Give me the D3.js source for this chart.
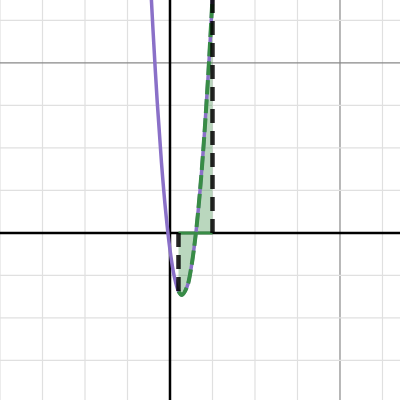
<!DOCTYPE html>
<html>
<head>
<meta charset="utf-8">
<script src="https://cdn.jsdelivr.net/npm/d3@7"></script>
<style>body{margin:0;background:#fff}</style>
</head>
<body>
<svg width="400" height="400"></svg>
<script>
const svg = d3.select("svg");
const width = +svg.attr("width");
const height = +svg.attr("height");

// points
const xs = [-0.45, -0.4, -0.3, -0.2, -0.1, 0, 0.1, 0.2, 0.28, 0.4, 0.5, 0.6, 0.7, 0.8, 0.9, 1.0, 1.05];
const ys = [5.73, 4.78, 3.08, 1.65, 0.49, -0.40, -1.02, -1.37, -1.46, -1.27, -0.81, -0.08, 0.92, 2.19, 3.73, 5.54, 6.54];
const shadeFrom = 0.2;
const shadeTo = 1.0;
const minorTicks = d3.range(-4, 6);
const majorTicks = [4];

const pts = xs.map((x, i) => ({x, y: ys[i]}));

const x = d3.scaleLinear().domain([-4, 5.412]).range([0, width]);
const y = d3.scaleLinear().domain([-3.93, 5.48]).range([height, 0]);

const g = svg.append("g");
g.selectAll(".vx").data(minorTicks).enter().append("line")
    .attr("x1", d => x(d)).attr("x2", d => x(d)).attr("y1", 0).attr("y2", height)
    .attr("stroke", d => majorTicks.includes(d) ? "#888" : "#e0e0e0").attr("stroke-width", 1.2);
g.selectAll(".hy").data(d3.range(-3, 6)).enter().append("line")
    .attr("y1", d => y(d)).attr("y2", d => y(d)).attr("x1", 0).attr("x2", width)
    .attr("stroke", d => majorTicks.includes(d) ? "#888" : "#e0e0e0").attr("stroke-width", 1.2);

g.append("line").attr("x1", x(0)).attr("x2", x(0)).attr("y1", 0).attr("y2", height)
    .attr("stroke", "#000").attr("stroke-width", 2.5);
g.append("line").attr("y1", y(0)).attr("y2", y(0)).attr("x1", 0).attr("x2", width)
    .attr("stroke", "#000").attr("stroke-width", 2.5);

const curve = d3.line().x(d => x(d.x)).y(d => y(d.y)).curve(d3.curveCatmullRom);
const shadePts = pts.filter(d => d.x >= shadeFrom && d.x <= shadeTo);
const area = d3.area().x(d => x(d.x)).y0(y(0)).y1(d => y(d.y)).curve(d3.curveCatmullRom);

svg.append("path").datum(shadePts).attr("d", area)
    .attr("fill", "#388c46").attr("fill-opacity", 0.35);
svg.append("line").attr("x1", x(shadeFrom)).attr("x2", x(shadeTo)).attr("y1", y(0)).attr("y2", y(0))
    .attr("stroke", "#388c46").attr("stroke-width", 3);

svg.append("path").datum(pts).attr("d", curve)
    .attr("fill", "none").attr("stroke", "#8a70c8").attr("stroke-width", 3.5);
svg.append("path").datum(shadePts).attr("d", curve)
    .attr("fill", "none").attr("stroke", "#388c46").attr("stroke-width", 4)
    .attr("stroke-dasharray", "14 5");

const fAt = v => ys[xs.indexOf(v)];
svg.selectAll(".edge").data([shadeFrom, shadeTo]).enter().append("line")
    .attr("x1", d => x(d)).attr("x2", d => x(d))
    .attr("y1", y(0)).attr("y2", d => Math.max(0, y(fAt(d))))
    .attr("stroke", "#000").attr("stroke-width", 4.5).attr("stroke-dasharray", "14 8")
    .attr("stroke-opacity", 0.85);
</script>
</body>
</html>
